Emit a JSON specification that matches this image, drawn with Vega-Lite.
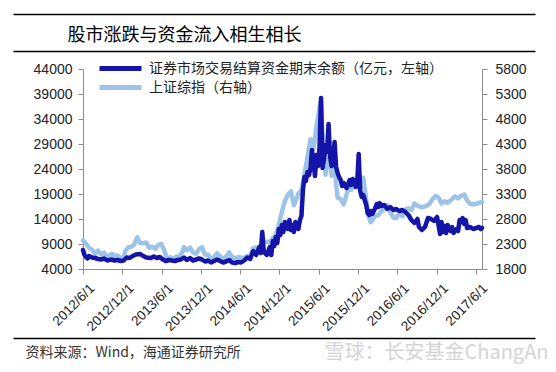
{
  "$schema": "https://vega.github.io/schema/vega-lite/v6.json",
  "width": 399,
  "height": 200,
  "autosize": {"type": "none"},
  "padding": {"left": 83, "top": 69, "right": 74, "bottom": 103},
  "background": "white",
  "config": {
    "view": {"stroke": null},
    "axis": {"labelFont": "Liberation Sans", "titleFont": "Noto Sans CJK SC", "grid": false, "domainColor": "#8c8c8c", "tickColor": "#8c8c8c", "labelColor": "#222222", "tickSize": 5}
  },
  "datasets": {
    "funds": [
      {"date": "2012-06-01", "value": 7800}, {"date": "2012-06-08", "value": 6800}, {"date": "2012-06-15", "value": 6400}, {"date": "2012-06-22", "value": 6100}, {"date": "2012-06-29", "value": 6600},
      {"date": "2012-07-13", "value": 6300}, {"date": "2012-07-27", "value": 6200}, {"date": "2012-08-10", "value": 6000}, {"date": "2012-08-24", "value": 5900}, {"date": "2012-09-07", "value": 6100},
      {"date": "2012-09-21", "value": 5700}, {"date": "2012-10-12", "value": 5900}, {"date": "2012-10-26", "value": 5700}, {"date": "2012-11-09", "value": 5800}, {"date": "2012-11-23", "value": 5600},
      {"date": "2012-12-07", "value": 5700}, {"date": "2012-12-21", "value": 6300}, {"date": "2013-01-04", "value": 6200}, {"date": "2013-01-18", "value": 6600}, {"date": "2013-02-01", "value": 6900},
      {"date": "2013-02-22", "value": 7000}, {"date": "2013-03-08", "value": 6600}, {"date": "2013-03-22", "value": 6300}, {"date": "2013-04-12", "value": 6200}, {"date": "2013-04-26", "value": 6500},
      {"date": "2013-05-10", "value": 6200}, {"date": "2013-05-24", "value": 6400}, {"date": "2013-06-07", "value": 5900}, {"date": "2013-06-21", "value": 5600}, {"date": "2013-07-05", "value": 5800},
      {"date": "2013-07-19", "value": 5700}, {"date": "2013-08-02", "value": 5600}, {"date": "2013-08-16", "value": 5800}, {"date": "2013-08-30", "value": 5900}, {"date": "2013-09-13", "value": 6300},
      {"date": "2013-09-27", "value": 5800}, {"date": "2013-10-11", "value": 6200}, {"date": "2013-10-25", "value": 5700}, {"date": "2013-11-08", "value": 5900}, {"date": "2013-11-22", "value": 6100},
      {"date": "2013-12-06", "value": 5900}, {"date": "2013-12-20", "value": 5500}, {"date": "2014-01-03", "value": 5700}, {"date": "2014-01-17", "value": 5300}, {"date": "2014-01-31", "value": 5600},
      {"date": "2014-02-14", "value": 5900}, {"date": "2014-02-28", "value": 5600}, {"date": "2014-03-14", "value": 5300}, {"date": "2014-03-28", "value": 5500}, {"date": "2014-04-11", "value": 5800},
      {"date": "2014-04-25", "value": 5300}, {"date": "2014-05-09", "value": 5200}, {"date": "2014-05-23", "value": 5400}, {"date": "2014-06-06", "value": 5300}, {"date": "2014-06-20", "value": 5700},
      {"date": "2014-07-04", "value": 6300}, {"date": "2014-07-18", "value": 6000}, {"date": "2014-08-01", "value": 7600}, {"date": "2014-08-15", "value": 6800}, {"date": "2014-08-29", "value": 8400},
      {"date": "2014-09-05", "value": 7200}, {"date": "2014-09-12", "value": 11400}, {"date": "2014-09-19", "value": 7400}, {"date": "2014-10-03", "value": 6800}, {"date": "2014-10-17", "value": 8400},
      {"date": "2014-10-24", "value": 6800}, {"date": "2014-10-31", "value": 9600}, {"date": "2014-11-07", "value": 8600}, {"date": "2014-11-14", "value": 10400}, {"date": "2014-11-21", "value": 9200},
      {"date": "2014-11-28", "value": 12000}, {"date": "2014-12-05", "value": 10800}, {"date": "2014-12-12", "value": 12800}, {"date": "2014-12-19", "value": 11400}, {"date": "2014-12-26", "value": 13400},
      {"date": "2015-01-09", "value": 12000}, {"date": "2015-01-16", "value": 13800}, {"date": "2015-01-23", "value": 11800}, {"date": "2015-01-30", "value": 12800}, {"date": "2015-02-06", "value": 11400},
      {"date": "2015-02-13", "value": 13400}, {"date": "2015-02-27", "value": 12000}, {"date": "2015-03-06", "value": 13800}, {"date": "2015-03-13", "value": 14600}, {"date": "2015-03-20", "value": 19800},
      {"date": "2015-03-27", "value": 22400}, {"date": "2015-04-03", "value": 21600}, {"date": "2015-04-10", "value": 23400}, {"date": "2015-04-17", "value": 22800}, {"date": "2015-04-24", "value": 24200},
      {"date": "2015-05-01", "value": 27800}, {"date": "2015-05-08", "value": 25400}, {"date": "2015-05-15", "value": 22600}, {"date": "2015-05-22", "value": 26800}, {"date": "2015-05-29", "value": 24600},
      {"date": "2015-06-05", "value": 28400}, {"date": "2015-06-12", "value": 38200}, {"date": "2015-06-19", "value": 24200}, {"date": "2015-06-26", "value": 26000}, {"date": "2015-07-03", "value": 28800},
      {"date": "2015-07-10", "value": 27400}, {"date": "2015-07-17", "value": 33000}, {"date": "2015-07-24", "value": 26400}, {"date": "2015-07-31", "value": 24600}, {"date": "2015-08-07", "value": 25600},
      {"date": "2015-08-14", "value": 29400}, {"date": "2015-08-21", "value": 24400}, {"date": "2015-08-28", "value": 23200}, {"date": "2015-09-04", "value": 22400}, {"date": "2015-09-11", "value": 21800},
      {"date": "2015-09-18", "value": 20600}, {"date": "2015-09-25", "value": 21200}, {"date": "2015-10-09", "value": 20200}, {"date": "2015-10-16", "value": 21000}, {"date": "2015-10-23", "value": 21800},
      {"date": "2015-10-30", "value": 20800}, {"date": "2015-11-06", "value": 22000}, {"date": "2015-11-13", "value": 21600}, {"date": "2015-11-20", "value": 20400}, {"date": "2015-11-27", "value": 21200},
      {"date": "2015-12-04", "value": 27000}, {"date": "2015-12-11", "value": 19600}, {"date": "2015-12-18", "value": 18400}, {"date": "2015-12-25", "value": 18800}, {"date": "2016-01-08", "value": 16800},
      {"date": "2016-01-15", "value": 15200}, {"date": "2016-01-22", "value": 14800}, {"date": "2016-01-29", "value": 15600}, {"date": "2016-02-05", "value": 15000}, {"date": "2016-02-19", "value": 16200},
      {"date": "2016-02-26", "value": 17000}, {"date": "2016-03-04", "value": 16400}, {"date": "2016-03-11", "value": 17200}, {"date": "2016-03-18", "value": 16600}, {"date": "2016-04-01", "value": 16800},
      {"date": "2016-04-15", "value": 16000}, {"date": "2016-04-29", "value": 16400}, {"date": "2016-05-13", "value": 15800}, {"date": "2016-05-27", "value": 16000}, {"date": "2016-06-10", "value": 15600},
      {"date": "2016-06-24", "value": 15800}, {"date": "2016-07-08", "value": 15400}, {"date": "2016-07-22", "value": 14800}, {"date": "2016-08-05", "value": 13800}, {"date": "2016-08-19", "value": 13200},
      {"date": "2016-09-02", "value": 14000}, {"date": "2016-09-09", "value": 12400}, {"date": "2016-09-23", "value": 11800}, {"date": "2016-10-07", "value": 12400}, {"date": "2016-10-21", "value": 14200},
      {"date": "2016-11-04", "value": 14000}, {"date": "2016-11-18", "value": 13600}, {"date": "2016-12-02", "value": 14400}, {"date": "2016-12-09", "value": 12800}, {"date": "2016-12-16", "value": 11000},
      {"date": "2016-12-23", "value": 13400}, {"date": "2016-12-30", "value": 11400}, {"date": "2017-01-06", "value": 12600}, {"date": "2017-01-13", "value": 11200}, {"date": "2017-01-20", "value": 12800},
      {"date": "2017-02-03", "value": 11600}, {"date": "2017-02-10", "value": 12400}, {"date": "2017-02-17", "value": 11200}, {"date": "2017-03-03", "value": 12000}, {"date": "2017-03-10", "value": 11600},
      {"date": "2017-03-17", "value": 13800}, {"date": "2017-03-24", "value": 13400}, {"date": "2017-03-31", "value": 14200}, {"date": "2017-04-07", "value": 13000}, {"date": "2017-04-14", "value": 13800},
      {"date": "2017-04-21", "value": 12200}, {"date": "2017-05-05", "value": 12400}, {"date": "2017-05-19", "value": 12000}, {"date": "2017-06-02", "value": 12200}, {"date": "2017-06-16", "value": 12400},
      {"date": "2017-06-23", "value": 12000}, {"date": "2017-06-29", "value": 12200}
    ],
    "sse": [
      {"date": "2012-06-01", "value": 2373}, {"date": "2012-06-15", "value": 2306}, {"date": "2012-06-29", "value": 2225}, {"date": "2012-07-13", "value": 2185}, {"date": "2012-07-27", "value": 2103},
      {"date": "2012-08-10", "value": 2168}, {"date": "2012-08-24", "value": 2092}, {"date": "2012-09-07", "value": 2127}, {"date": "2012-09-21", "value": 2033}, {"date": "2012-10-12", "value": 2105},
      {"date": "2012-10-26", "value": 2067}, {"date": "2012-11-09", "value": 2069}, {"date": "2012-11-23", "value": 2017}, {"date": "2012-11-30", "value": 1980}, {"date": "2012-12-07", "value": 2033},
      {"date": "2012-12-14", "value": 2150}, {"date": "2012-12-28", "value": 2233}, {"date": "2013-01-11", "value": 2243}, {"date": "2013-01-25", "value": 2292}, {"date": "2013-02-08", "value": 2432},
      {"date": "2013-02-22", "value": 2314}, {"date": "2013-03-08", "value": 2319}, {"date": "2013-03-22", "value": 2328}, {"date": "2013-04-05", "value": 2225}, {"date": "2013-04-19", "value": 2244},
      {"date": "2013-05-03", "value": 2205}, {"date": "2013-05-17", "value": 2282}, {"date": "2013-05-31", "value": 2301}, {"date": "2013-06-14", "value": 2162}, {"date": "2013-06-28", "value": 1979},
      {"date": "2013-07-12", "value": 2039}, {"date": "2013-07-26", "value": 1992}, {"date": "2013-08-09", "value": 2052}, {"date": "2013-08-23", "value": 2057}, {"date": "2013-09-06", "value": 2140},
      {"date": "2013-09-13", "value": 2236}, {"date": "2013-09-27", "value": 2175}, {"date": "2013-10-11", "value": 2228}, {"date": "2013-10-25", "value": 2133}, {"date": "2013-11-08", "value": 2106},
      {"date": "2013-11-22", "value": 2197}, {"date": "2013-12-06", "value": 2238}, {"date": "2013-12-20", "value": 2085}, {"date": "2014-01-03", "value": 2083}, {"date": "2014-01-17", "value": 2004},
      {"date": "2014-01-30", "value": 2033}, {"date": "2014-02-14", "value": 2115}, {"date": "2014-02-28", "value": 2056}, {"date": "2014-03-14", "value": 2004}, {"date": "2014-03-28", "value": 2046},
      {"date": "2014-04-11", "value": 2131}, {"date": "2014-04-25", "value": 2036}, {"date": "2014-05-09", "value": 2011}, {"date": "2014-05-23", "value": 2035}, {"date": "2014-06-06", "value": 2029},
      {"date": "2014-06-20", "value": 2026}, {"date": "2014-07-04", "value": 2060}, {"date": "2014-07-18", "value": 2059}, {"date": "2014-08-01", "value": 2221}, {"date": "2014-08-15", "value": 2226},
      {"date": "2014-08-29", "value": 2217}, {"date": "2014-09-12", "value": 2332}, {"date": "2014-09-26", "value": 2347}, {"date": "2014-10-17", "value": 2341}, {"date": "2014-10-31", "value": 2420},
      {"date": "2014-11-14", "value": 2478}, {"date": "2014-11-28", "value": 2683}, {"date": "2014-12-12", "value": 2938}, {"date": "2014-12-26", "value": 3157}, {"date": "2015-01-09", "value": 3285},
      {"date": "2015-01-23", "value": 3351}, {"date": "2015-02-06", "value": 3076}, {"date": "2015-02-27", "value": 3310}, {"date": "2015-03-13", "value": 3372}, {"date": "2015-03-27", "value": 3691},
      {"date": "2015-04-10", "value": 4034}, {"date": "2015-04-24", "value": 4394}, {"date": "2015-05-08", "value": 4205}, {"date": "2015-05-22", "value": 4658}, {"date": "2015-06-05", "value": 5023},
      {"date": "2015-06-12", "value": 5166}, {"date": "2015-06-19", "value": 4478}, {"date": "2015-06-26", "value": 4192}, {"date": "2015-07-03", "value": 3686}, {"date": "2015-07-10", "value": 3877},
      {"date": "2015-07-17", "value": 3957}, {"date": "2015-07-24", "value": 4070}, {"date": "2015-07-31", "value": 3664}, {"date": "2015-08-14", "value": 3965}, {"date": "2015-08-21", "value": 3507},
      {"date": "2015-08-28", "value": 3232}, {"date": "2015-09-11", "value": 3200}, {"date": "2015-09-25", "value": 3092}, {"date": "2015-10-16", "value": 3391}, {"date": "2015-10-30", "value": 3383},
      {"date": "2015-11-13", "value": 3580}, {"date": "2015-11-27", "value": 3436}, {"date": "2015-12-11", "value": 3434}, {"date": "2015-12-25", "value": 3628}, {"date": "2016-01-08", "value": 3186},
      {"date": "2016-01-15", "value": 2901}, {"date": "2016-01-29", "value": 2737}, {"date": "2016-02-19", "value": 2860}, {"date": "2016-03-04", "value": 2874}, {"date": "2016-03-18", "value": 2955},
      {"date": "2016-04-01", "value": 3009}, {"date": "2016-04-15", "value": 3078}, {"date": "2016-04-29", "value": 2938}, {"date": "2016-05-13", "value": 2827}, {"date": "2016-05-27", "value": 2822},
      {"date": "2016-06-10", "value": 2927}, {"date": "2016-06-24", "value": 2854}, {"date": "2016-07-08", "value": 2988}, {"date": "2016-07-22", "value": 3013}, {"date": "2016-08-05", "value": 2977},
      {"date": "2016-08-19", "value": 3108}, {"date": "2016-09-02", "value": 3067}, {"date": "2016-09-23", "value": 3033}, {"date": "2016-10-14", "value": 3064}, {"date": "2016-10-28", "value": 3104},
      {"date": "2016-11-11", "value": 3196}, {"date": "2016-11-25", "value": 3262}, {"date": "2016-12-09", "value": 3232}, {"date": "2016-12-23", "value": 3110}, {"date": "2017-01-06", "value": 3154},
      {"date": "2017-01-20", "value": 3123}, {"date": "2017-02-10", "value": 3196}, {"date": "2017-02-24", "value": 3253}, {"date": "2017-03-10", "value": 3212}, {"date": "2017-03-24", "value": 3269},
      {"date": "2017-04-07", "value": 3287}, {"date": "2017-04-21", "value": 3173}, {"date": "2017-05-05", "value": 3103}, {"date": "2017-05-19", "value": 3090}, {"date": "2017-06-02", "value": 3105},
      {"date": "2017-06-16", "value": 3123}, {"date": "2017-06-29", "value": 3140}
    ]
  },
  "layer": [
    {
      "data": {"name": "sse"},
      "mark": {"type": "line", "strokeWidth": 4.5, "strokeJoin": "round", "strokeCap": "round"},
      "encoding": {
        "x": {"field": "date", "type": "temporal",
              "scale": {"type": "utc", "domain": [{"year": 2012, "month": 6, "date": 1, "utc": true}, {"year": 2017, "month": 6, "date": 29, "utc": true}]},
              "axis": null},
        "y": {"field": "value", "type": "quantitative",
              "scale": {"domain": [1800, 5800], "nice": false, "zero": false},
              "axis": {"orient": "right", "values": [1800, 2300, 2800, 3300, 3800, 4300, 4800, 5300, 5800], "format": "d", "labelFontSize": 14, "labelPadding": 8,
                       "title": "雪球：长安基金ChangAn", "titleAngle": 0, "titleX": -158, "titleY": 283, "titleAlign": "left", "titleBaseline": "middle",
                       "titleFontSize": 20, "titleFontWeight": "normal", "titleColor": "#d4d4d4"}},
        "color": {"datum": "上证综指（右轴）", "type": "nominal",
                  "scale": {"domain": ["证券市场交易结算资金期末余额（亿元，左轴）", "上证综指（右轴）"], "range": ["#1414a8", "#9dc3e6"]}}
      }
    },
    {
      "data": {"name": "funds"},
      "mark": {"type": "line", "strokeWidth": 4.5, "strokeJoin": "round", "strokeCap": "round"},
      "encoding": {
        "x": {"field": "date", "type": "temporal",
              "scale": {"type": "utc", "domain": [{"year": 2012, "month": 6, "date": 1, "utc": true}, {"year": 2017, "month": 6, "date": 29, "utc": true}]},
              "axis": {"orient": "bottom", "title": null, "format": "%Y/%-m/%-d", "labelAngle": -45, "labelFontSize": 13.5, "labelPadding": 7, "labelOffset": 4, "labelOverlap": false,
                       "values": [{"year": 2012, "month": 6, "date": 1, "utc": true}, {"year": 2012, "month": 12, "date": 1, "utc": true},
                                  {"year": 2013, "month": 6, "date": 1, "utc": true}, {"year": 2013, "month": 12, "date": 1, "utc": true},
                                  {"year": 2014, "month": 6, "date": 1, "utc": true}, {"year": 2014, "month": 12, "date": 1, "utc": true},
                                  {"year": 2015, "month": 6, "date": 1, "utc": true}, {"year": 2015, "month": 12, "date": 1, "utc": true},
                                  {"year": 2016, "month": 6, "date": 1, "utc": true}, {"year": 2016, "month": 12, "date": 1, "utc": true},
                                  {"year": 2017, "month": 6, "date": 1, "utc": true}]}},
        "y": {"field": "value", "type": "quantitative",
              "scale": {"domain": [4000, 44000], "nice": false, "zero": false},
              "axis": {"orient": "left", "title": null, "values": [4000, 9000, 14000, 19000, 24000, 29000, 34000, 39000, 44000], "format": "d", "labelFontSize": 14, "labelPadding": 6}},
        "color": {"datum": "证券市场交易结算资金期末余额（亿元，左轴）", "type": "nominal",
                  "legend": {"orient": "none", "legendX": 29, "legendY": -9, "title": null, "symbolType": "M-3.5,0L3.5,0", "symbolSize": 144, "symbolStrokeWidth": 5,
                             "labelFont": "Noto Sans CJK SC", "labelFontSize": 14, "labelColor": "#222222", "labelLimit": 500, "rowPadding": -3, "labelOffset": 20}}
      }
    },
    {
      "data": {"name": "sse"},
      "mark": {"type": "rule", "opacity": 0},
      "encoding": {
        "x": {"field": "date", "type": "temporal",
              "scale": {"type": "utc", "domain": [{"year": 2012, "month": 6, "date": 1, "utc": true}, {"year": 2017, "month": 6, "date": 29, "utc": true}], "range": [-70, 452]},
              "axis": {"orient": "top", "offset": 18, "domainColor": "#000000", "domainWidth": 1.5, "ticks": false, "labels": false,
                       "title": "股市涨跌与资金流入相生相长", "titleFont": "Noto Sans CJK SC", "titleFontSize": 18, "titleFontWeight": "normal", "titleColor": "#000000",
                       "titleX": -16, "titleY": -16, "titleAlign": "left", "titleBaseline": "middle", "titleAngle": 0}}
      }
    },
    {
      "data": {"name": "sse"},
      "mark": {"type": "rule", "opacity": 0},
      "encoding": {
        "x": {"field": "date", "type": "temporal",
              "scale": {"type": "utc", "domain": [{"year": 2012, "month": 6, "date": 1, "utc": true}, {"year": 2017, "month": 6, "date": 29, "utc": true}], "range": [-70, 452]},
              "axis": {"orient": "top", "offset": 55, "domainColor": "#000000", "domainWidth": 1.5, "ticks": false, "labels": false, "title": null}}
      }
    },
    {
      "data": {"name": "sse"},
      "mark": {"type": "rule", "opacity": 0},
      "encoding": {
        "x": {"field": "date", "type": "temporal",
              "scale": {"type": "utc", "domain": [{"year": 2012, "month": 6, "date": 1, "utc": true}, {"year": 2017, "month": 6, "date": 29, "utc": true}], "range": [-70, 452]},
              "axis": {"orient": "bottom", "offset": 69, "domainColor": "#000000", "domainWidth": 1.5, "ticks": false, "labels": false,
                       "title": "资料来源：Wind，海通证券研究所", "titleFont": "Noto Sans CJK SC", "titleFontSize": 14, "titleFontWeight": "normal", "titleColor": "#333333",
                       "titleX": -58, "titleY": 14, "titleAlign": "left", "titleBaseline": "middle", "titleAngle": 0}}
      }
    }
  ],
  "resolve": {"scale": {"x": "independent", "y": "independent"}, "axis": {"x": "independent", "y": "independent"}}
}
